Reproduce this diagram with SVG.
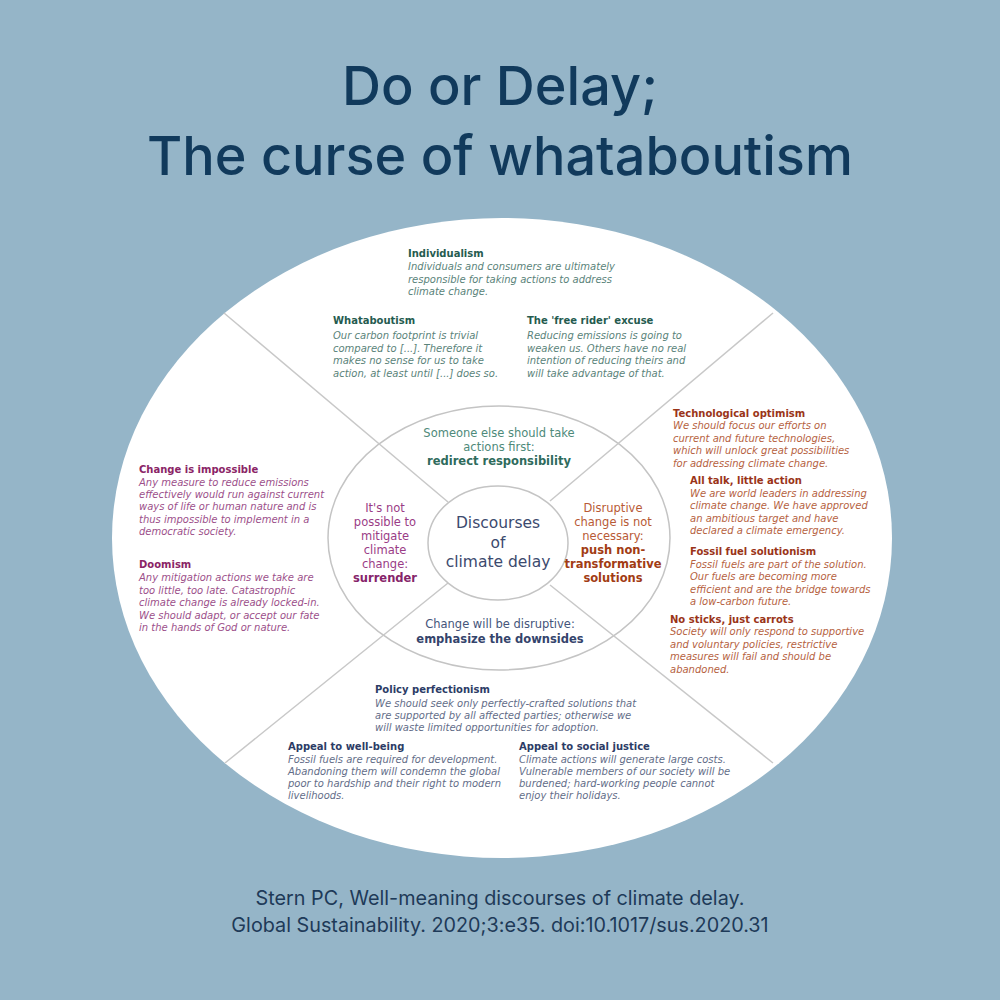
<svg xmlns="http://www.w3.org/2000/svg" width="1000" height="1000" viewBox="0 0 1000 1000">
<style>
.title{font-family:Inter,"Liberation Sans",sans-serif;font-size:54px;font-weight:500;fill:#113a5c;text-anchor:middle}
.foot{font-family:Inter,"Liberation Sans",sans-serif;font-size:19.8px;fill:#1e3a58;text-anchor:middle}
.h{font-family:"DejaVu Sans",Verdana,sans-serif;font-size:10px;font-weight:bold}
.b{font-family:"DejaVu Sans",Verdana,sans-serif;font-size:10px;font-style:italic}
.r{font-family:"DejaVu Sans",Verdana,sans-serif;font-size:11.5px;text-anchor:middle}
.rb{font-weight:bold}
.c{font-family:"DejaVu Sans",Verdana,sans-serif;font-size:15.5px;text-anchor:middle;fill:#3c4a6e}
.ring{fill:#ffffff;stroke:#c4c4c4;stroke-width:1.5}
.sep{stroke:#c8c8c8;stroke-width:1.5;fill:none}
.teal .h{fill:#255b4f}.teal .b{fill:#5a837a}
.purp .h{fill:#8a2466}.purp .b{fill:#9c4f8a}
.rust .h{fill:#9a3418}.rust .b{fill:#b6623f}
.navy .h{fill:#2c3c66}.navy .b{fill:#636d88}
</style>
<rect width="1000" height="1000" fill="#95b5c8"/>
<g id="title">
<text class="title" x="500" y="105">Do or Delay;</text>
<text class="title" x="500" y="175">The curse of whataboutism</text>
</g>
<g id="wheel">
<ellipse cx="502" cy="538" rx="390" ry="320" fill="#ffffff"/>
<ellipse class="ring" cx="499" cy="538" rx="171" ry="132"/>
</g>
<g id="connectors">
<line class="sep" x1="224" y1="313" x2="448" y2="502"/>
<line class="sep" x1="773" y1="313" x2="550" y2="501"/>
<line class="sep" x1="225" y1="763" x2="448" y2="583"/>
<line class="sep" x1="773" y1="763" x2="550" y2="585"/>
</g>
<g id="center">
<ellipse class="ring" cx="498" cy="543" rx="70" ry="57"/>
<text class="c" x="498" y="528">Discourses</text>
<text class="c" x="498" y="548">of</text>
<text class="c" x="498" y="567">climate delay</text>
</g>
<g id="redirect">
<text class="r" x="499" y="437" fill="#4e8a7a">Someone else should take</text>
<text class="r" x="499" y="451" fill="#4e8a7a">actions first:</text>
<text class="r rb" x="499" y="465" fill="#2f6b5c">redirect responsibility</text>
</g>
<g id="surrender">
<text class="r" x="385" y="512" fill="#9a3c86">It's not</text>
<text class="r" x="385" y="526" fill="#9a3c86">possible to</text>
<text class="r" x="385" y="540" fill="#9a3c86">mitigate</text>
<text class="r" x="385" y="554" fill="#9a3c86">climate</text>
<text class="r" x="385" y="568" fill="#9a3c86">change:</text>
<text class="r rb" x="385" y="582" fill="#86246a">surrender</text>
</g>
<g id="nontransformative">
<text class="r" x="613" y="512" fill="#b85a36">Disruptive</text>
<text class="r" x="613" y="526" fill="#b85a36">change is not</text>
<text class="r" x="613" y="540" fill="#b85a36">necessary:</text>
<text class="r rb" x="613" y="554" fill="#a23c14">push non-</text>
<text class="r rb" x="613" y="568" fill="#a23c14">transformative</text>
<text class="r rb" x="613" y="582" fill="#a23c14">solutions</text>
</g>
<g id="downsides">
<text class="r" x="500" y="628" fill="#45557a">Change will be disruptive:</text>
<text class="r rb" x="500" y="643" fill="#34446c">emphasize the downsides</text>
</g>
<g id="individualism" class="teal">
<text class="h" x="408" y="257">Individualism</text>
<text class="b" x="408" y="270">Individuals and consumers are ultimately</text>
<text class="b" x="408" y="282.5">responsible for taking actions to address</text>
<text class="b" x="408" y="295">climate change.</text>
</g>
<g id="whataboutism" class="teal">
<text class="h" x="333" y="324">Whataboutism</text>
<text class="b" x="333" y="339">Our carbon footprint is trivial</text>
<text class="b" x="333" y="351.5">compared to [...]. Therefore it</text>
<text class="b" x="333" y="364">makes no sense for us to take</text>
<text class="b" x="333" y="376.5">action, at least until [...] does so.</text>
</g>
<g id="freerider" class="teal">
<text class="h" x="527" y="324">The 'free rider' excuse</text>
<text class="b" x="527" y="339">Reducing emissions is going to</text>
<text class="b" x="527" y="351.5">weaken us. Others have no real</text>
<text class="b" x="527" y="364">intention of reducing theirs and</text>
<text class="b" x="527" y="376.5">will take advantage of that.</text>
</g>
<g id="impossible" class="purp">
<text class="h" x="139" y="473">Change is impossible</text>
<text class="b" x="139" y="486">Any measure to reduce emissions</text>
<text class="b" x="139" y="498">effectively would run against current</text>
<text class="b" x="139" y="510">ways of life or human nature and is</text>
<text class="b" x="139" y="522.5">thus impossible to implement in a</text>
<text class="b" x="139" y="535">democratic society.</text>
</g>
<g id="doomism" class="purp">
<text class="h" x="139" y="568">Doomism</text>
<text class="b" x="139" y="581">Any mitigation actions we take are</text>
<text class="b" x="139" y="593.5">too little, too late. Catastrophic</text>
<text class="b" x="139" y="606">climate change is already locked-in.</text>
<text class="b" x="139" y="618.5">We should adapt, or accept our fate</text>
<text class="b" x="139" y="631">in the hands of God or nature.</text>
</g>
<g id="techoptimism" class="rust">
<text class="h" x="673" y="417">Technological optimism</text>
<text class="b" x="673" y="429">We should focus our efforts on</text>
<text class="b" x="673" y="441.5">current and future technologies,</text>
<text class="b" x="673" y="454">which will unlock great possibilities</text>
<text class="b" x="673" y="466.5">for addressing climate change.</text>
</g>
<g id="alltalk" class="rust">
<text class="h" x="690" y="484">All talk, little action</text>
<text class="b" x="690" y="496.5">We are world leaders in addressing</text>
<text class="b" x="690" y="509">climate change. We have approved</text>
<text class="b" x="690" y="521.5">an ambitious target and have</text>
<text class="b" x="690" y="534">declared a climate emergency.</text>
</g>
<g id="fossilsolution" class="rust">
<text class="h" x="690" y="555">Fossil fuel solutionism</text>
<text class="b" x="690" y="567.5">Fossil fuels are part of the solution.</text>
<text class="b" x="690" y="580">Our fuels are becoming more</text>
<text class="b" x="690" y="592.5">efficient and are the bridge towards</text>
<text class="b" x="690" y="605">a low-carbon future.</text>
</g>
<g id="nosticks" class="rust">
<text class="h" x="670" y="623">No sticks, just carrots</text>
<text class="b" x="670" y="635">Society will only respond to supportive</text>
<text class="b" x="670" y="647.5">and voluntary policies, restrictive</text>
<text class="b" x="670" y="660">measures will fail and should be</text>
<text class="b" x="670" y="672.5">abandoned.</text>
</g>
<g id="policyperfectionism" class="navy">
<text class="h" x="375" y="693">Policy perfectionism</text>
<text class="b" x="375" y="707">We should seek only perfectly-crafted solutions that</text>
<text class="b" x="375" y="719">are supported by all affected parties; otherwise we</text>
<text class="b" x="375" y="731">will waste limited opportunities for adoption.</text>
</g>
<g id="wellbeing" class="navy">
<text class="h" x="288" y="750">Appeal to well-being</text>
<text class="b" x="288" y="763">Fossil fuels are required for development.</text>
<text class="b" x="288" y="775">Abandoning them will condemn the global</text>
<text class="b" x="288" y="787">poor to hardship and their right to modern</text>
<text class="b" x="288" y="799">livelihoods.</text>
</g>
<g id="socialjustice" class="navy">
<text class="h" x="519" y="750">Appeal to social justice</text>
<text class="b" x="519" y="763">Climate actions will generate large costs.</text>
<text class="b" x="519" y="775">Vulnerable members of our society will be</text>
<text class="b" x="519" y="787">burdened; hard-working people cannot</text>
<text class="b" x="519" y="799">enjoy their holidays.</text>
</g>
<g id="footer">
<text class="foot" x="500" y="905">Stern PC, Well-meaning discourses of climate delay.</text>
<text class="foot" x="500" y="932">Global Sustainability. 2020;3:e35. doi:10.1017/sus.2020.31</text>
</g>
</svg>
